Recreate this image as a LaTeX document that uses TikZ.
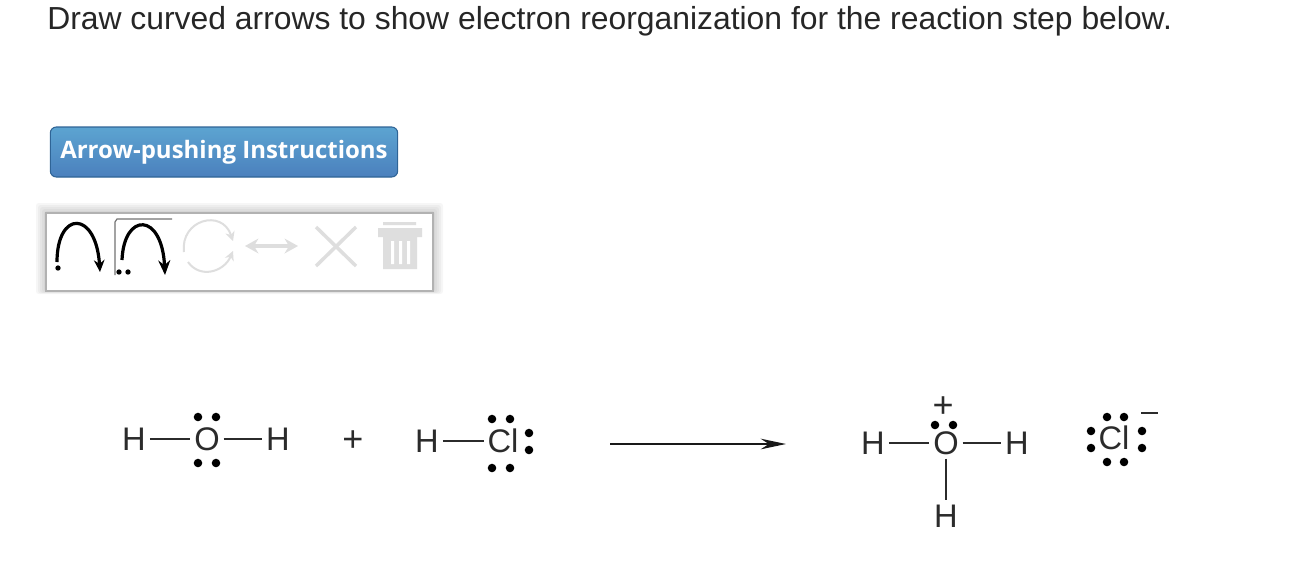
\documentclass[tikz,border=0pt]{standalone}
\usetikzlibrary{arrows.meta}
\usepackage{fontspec}
\setmainfont{Liberation Sans}
\newfontfamily\buttonfont{Open Sans}
\definecolor{btntop}{HTML}{5CA4D1}
\definecolor{btnbot}{HTML}{4B80BD}
\definecolor{btnline}{HTML}{2F6496}
\definecolor{inkgray}{HTML}{2B2B2B}
\definecolor{offgray}{HTML}{DEDEDE}
\tikzset{
	atom/.style={inner sep=0pt,outer sep=3pt,text=inkgray,font=\fontsize{24.5}{24.5}\selectfont,text height=17.5pt,text depth=0pt},
	sign/.style={inner sep=0pt,text=inkgray,font=\fontsize{27}{27}\selectfont},
	bond/.style={color=inkgray,line width=1.3pt},
	icon/.style={line width=2.4pt,color=black},
	officon/.style={line width=1.5pt,color=offgray}
}
\begin{document}
\begin{tikzpicture}[>=stealth,x=0.75pt,y=-0.75pt]
	\useasboundingbox(0,0) rectangle (1306,562);
	\node[anchor=base west,inner sep=0pt,font=\fontsize{23.9}{24}\selectfont,text=black!85] (title) at (47,29) {Draw curved arrows to show electron reorganization for the reaction step below.};
	% button
	\node[draw=btnline,line width=0.8pt,rounded corners=4.5pt,top color=btntop,bottom color=btnbot,minimum width=260.5pt,minimum height=37.5pt,inner sep=0pt,text=white,font=\buttonfont\bfseries\fontsize{18}{18}\selectfont] (button) at (224,152) {\raisebox{-1.5pt}{Arrow-pushing Instructions}};
	% toolbar
	\foreach \g in {10,8,6,4,2}
		\fill[black,opacity=0.035,rounded corners=2pt](46-\g,213-\g) rectangle (433+\g,291+\g*0.3);
	\draw[draw=black!30,fill=white,line width=1.2pt](46,213) rectangle (433,291);
	\draw[icon,-{Stealth[length=9pt,width=8pt]}](57,262) .. controls (57,210) and (96,210) .. (100,272);
	\fill[black](58,268) circle[radius=2pt];
	\draw[color=black!55,line width=0.9pt](115,275)--(115,222)--(117,219)--(172,219);
	\draw[icon,-{Stealth[length=11pt,width=9pt]}](122,260) .. controls (124,212) and (162,212) .. (165,275);
	\fill[black](119,272) circle[radius=2pt](128,272) circle[radius=2pt];
	\draw[officon,-{Stealth[length=7pt,width=7pt]}](184,252) .. controls (180,220) and (222,208) .. (233,241);
	\draw[officon,-{Stealth[length=7pt,width=7pt]}](188,262) .. controls (200,279) and (224,272) .. (233,251);
	\draw[officon,{Stealth[length=10pt,width=11pt]}-{Stealth[length=10pt,width=11pt]},line width=2.6pt](245,246)--(298,246);
	\draw[officon,line width=2.6pt](316,227)--(356,266)(356,227)--(316,266);
	\fill[offgray](383,222) rectangle (416,225)(378,228) rectangle (422,237)
	(383,237) rectangle (417,269);
	\fill[white](391,241) rectangle (394,264)(399,241) rectangle (402,264)(407,241) rectangle (410,264);
	% water
	\node[atom] (h1) at (134,439) {H};
	\node[atom] (o1) at (207,439) {O};
	\node[atom] (h2) at (278,439) {H};
	\draw[bond](h1)--(o1);
	\draw[bond](o1)--(h2);
	\fill[black](198,417) circle[radius=3.2pt](216,417) circle[radius=3.2pt]
	(198,463) circle[radius=3.2pt](216,463) circle[radius=3.2pt];
	\node[sign] (plus) at (353,441) {+};
	% HCl
	\node[atom] (h3) at (427,441) {H};
	\node[atom] (cl1) at (503,441) {Cl};
	\draw[bond](h3)--(cl1);
	\fill[black](492,419) circle[radius=3.2pt](510,419) circle[radius=3.2pt]
	(492,468) circle[radius=3.2pt](510,468) circle[radius=3.2pt]
	(529,433) circle[radius=3.2pt](529,450) circle[radius=3.2pt];
	% reaction arrow
	\coordinate (start) at (610,444);
	\coordinate (end) at (786,444);
	\draw[line width=1.2pt,color=black!90,-{Stealth[length=19pt,width=8pt]}](start)--(end);
	% hydronium
	\node[atom] (h4) at (873,443) {H};
	\node[atom] (o2) at (946,443) {O};
	\node[atom] (h5) at (1017,443) {H};
	\node[atom] (h6) at (946,516) {H};
	\draw[bond](h4)--(o2);
	\draw[bond](o2)--(h5);
	\draw[bond](o2)--(h6);
	\fill[black](935,425) circle[radius=3.2pt](953,425) circle[radius=3.2pt];
	\node[sign] (charge) at (943,407) {+};
	% chloride
	\node[atom] (cl2) at (1114,438) {Cl};
	\fill[black](1107,417) circle[radius=3.2pt](1124,417) circle[radius=3.2pt]
	(1107,462) circle[radius=3.2pt](1124,462) circle[radius=3.2pt]
	(1091,431) circle[radius=3.2pt](1091,448) circle[radius=3.2pt]
	(1142,431) circle[radius=3.2pt](1142,448) circle[radius=3.2pt];
	\coordinate (minusa) at (1141,413);
	\coordinate (minusb) at (1158,413);
	\draw[bond](minusa)--(minusb);
\end{tikzpicture}
\end{document}
